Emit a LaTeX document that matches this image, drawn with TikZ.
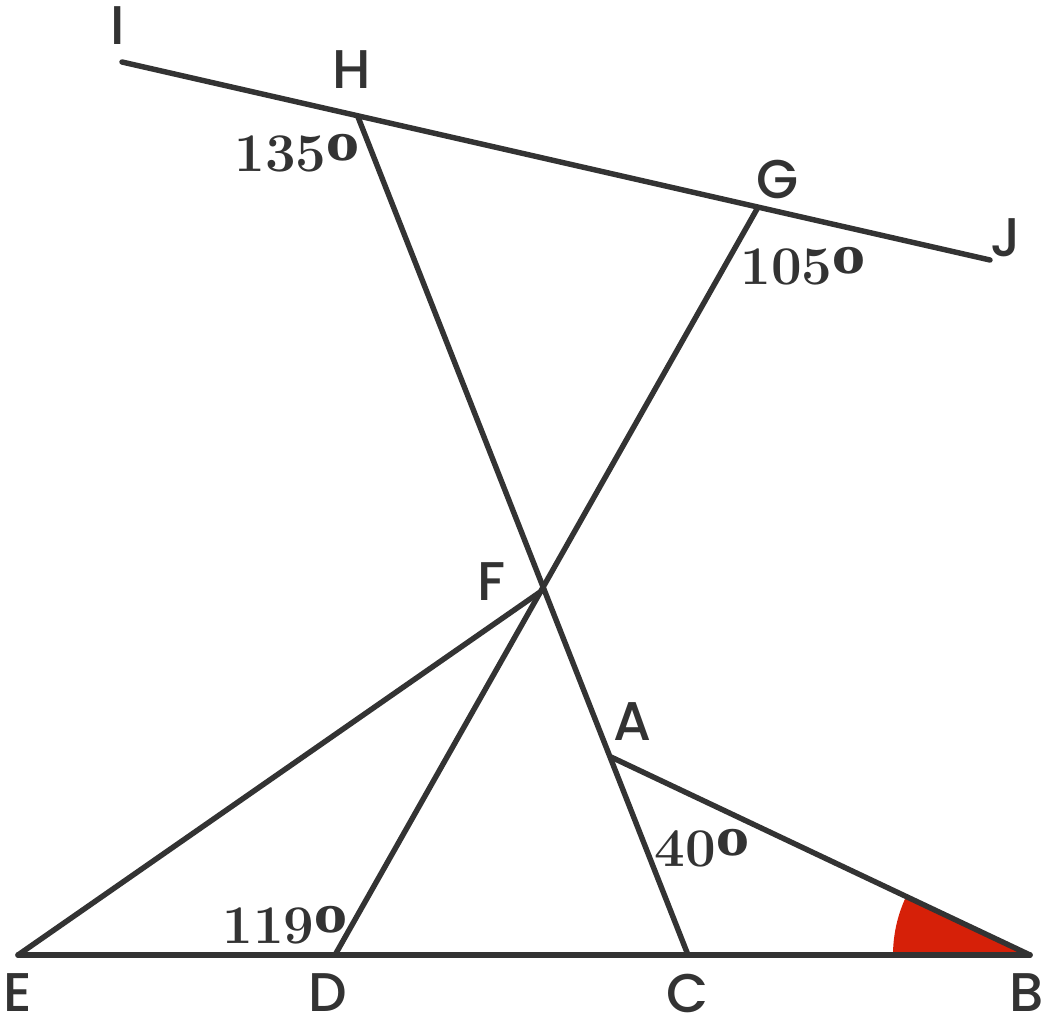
\documentclass[tikz,border=0pt]{standalone}
\usepackage{fontspec}
\usepackage{xcolor}
\usepackage{amsmath}
\newfontfamily\labelfont{Poppins Medium}
\newfontfamily\ringfont{DejaVu Serif}
\definecolor{linegray}{RGB}{51,51,51}
\definecolor{anglered}{RGB}{214,32,8}
\newcommand{\dg}{\raisebox{6pt}{\ringfont\bfseries\fontsize{28}{28}\selectfont o}}

\begin{document}
\begin{tikzpicture}[x=0.02cm, y=-0.02cm]
    \tikzstyle{pt} = [inner sep=0pt, text=linegray, font=\labelfont\fontsize{31}{34}\selectfont]
    \tikzstyle{deg} = [inner sep=0pt, text=linegray, font=\fontsize{31}{34}\selectfont\bfseries]
    \tikzstyle{seg} = [draw=linegray, line width=3.1pt, line cap=round, line join=round]
    \useasboundingbox (0,0) rectangle (1050,1024);

    % Points
    \coordinate (e) at (18,955);
    \coordinate (d) at (335,955);
    \coordinate (c) at (688,955);
    \coordinate (b) at (1030,955);
    \coordinate (a) at (611,757);
    \coordinate (f) at (543,590);
    \coordinate (h) at (358,117);
    \coordinate (g) at (757,209);
    \coordinate (i) at (122,62);
    \coordinate (j) at (990,260);

    % Shaded angle
    \fill[anglered] (b) -- ++(180:137) arc (180:205.35:137) -- cycle;

    % Segments
    \draw[seg] (i) -- (j);
    \draw[seg] (h) -- (c);
    \draw[seg] (g) -- (d);
    \draw[seg] (e) -- (f);
    \draw[seg] (e) -- (b);
    \draw[seg] (a) -- (b);

    % Letters
    \node[pt] (li) at (118,26) {I};
    \node[pt] (lh) at (352,70) {H};
    \node[pt] (lg) at (778,179) {G};
    \node[pt] (lj) at (1006,238) {J};
    \node[pt] (lf) at (492,582) {F};
    \node[pt] (la) at (632,722) {A};
    \node[pt] (le) at (18,993) {E};
    \node[pt] (ld) at (328,993) {D};
    \node[pt] (lc) at (688,993) {C};
    \node[pt] (lb) at (1027,993) {B};

    % Angles
    \node[deg] (d135) at (297,153) {135\dg};
    \node[deg] (d105) at (803,266) {105\dg};
    \node[deg] (d40) at (702,848) {40\dg};
    \node[deg] (d119) at (285,925) {119\dg};
\end{tikzpicture}
\end{document}
